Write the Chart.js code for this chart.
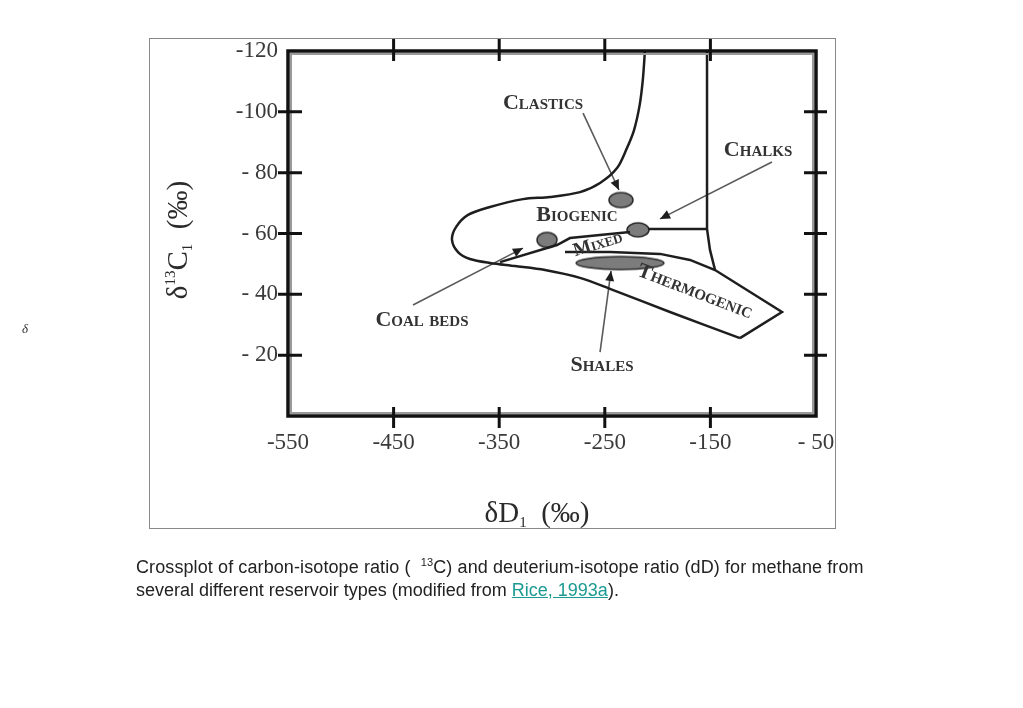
<!DOCTYPE html>
<html>
<head>
<meta charset="utf-8">
<script src="https://cdn.jsdelivr.net/npm/chart.js@4.4.0/dist/chart.umd.min.js"></script>
<style>
  body { margin: 0; background: #fff; width: 1023px; height: 708px; overflow: hidden; position: relative; }
  #plot { position: absolute; left: 0; top: 0; }
  #frame { position: absolute; left: 149px; top: 38px; width: 685px; height: 489px; border: 1px solid #888; pointer-events: none; }
  #caption { position: absolute; left: 136px; top: 556px; font: 18px "Liberation Sans", Arial, sans-serif; line-height: 23px; color: #222; white-space: nowrap; }
  #caption .l1 { letter-spacing: 0.1px; }
  #caption a { color: #1b9a92; text-decoration: underline; }
  #caption sup { font-size: 11px; vertical-align: 7px; line-height: 0; }
  #delta { position: absolute; left: 22px; top: 321px; font: italic 13px "Liberation Serif", serif; color: #333; }
</style>
</head>
<body>
<canvas id="plot" width="1023" height="708"></canvas>
<div id="frame"></div>
<div id="delta">δ</div>
<div id="caption"><span class="l1">Crossplot of carbon-isotope ratio (&nbsp;&nbsp;<sup>13</sup>C) and deuterium-isotope ratio (dD) for methane from</span><br>several different reservoir types (modified from <a>Rice, 1993a</a>).</div>
<script>
// axis ticks
const xTicks = [-550, -450, -350, -250, -150, -50];
const xTickLabels = ['-550', '-450', '-350', '-250', '-150', '- 50'];
const yTicks = [-120, -100, -80, -60, -40, -20];
const yTickLabels = ['-120', '-100', '- 80', '- 60', '- 40', '- 20'];

// field outlines, [dD, d13C]
const biogenicOutline = [[-212, -120], [-214, -110.5], [-217, -102.2], [-222.3, -94], [-229, -88.1], [-238.4, -81.5],
  [-254.5, -76.6], [-273.5, -73.6], [-301.9, -72], [-327.5, -71.3], [-358.7, -68.7], [-379.5, -66.1], [-390.9, -62.1],
  [-394.7, -57.9], [-389, -53.9], [-377.7, -51.6], [-358.7, -50.3], [-335, -49.3], [-306.6, -48], [-273.5, -45.4],
  [-245.1, -41.8], [-188.3, -34.2], [-122, -25.6]];
const thermogenicOutline = [[-287.7, -53.9], [-245.1, -53.9], [-197.7, -53.3], [-169.3, -51.3], [-145.6, -48], [-82.2, -34.2], [-122, -25.6]];
const chalksEdge = [[-153.2, -120], [-153.2, -61.5], [-150.4, -54.6], [-145.6, -48]];
const chalksFloor = [[-209.1, -61.5], [-153.2, -61.5]];
const mixedEdge = [[-349.2, -50.6], [-295.3, -56.2], [-283, -58.5], [-226.1, -60.5]];

// pointers from labels to fields
const clasticsArrow = [[-270.6, -99.6], [-236.6, -74.3]];
const chalksArrow = [[-91.7, -83.5], [-197.7, -64.8]];
const coalArrow = [[-431.6, -36.5], [-327.5, -55.2]];
const shalesArrow = [[-254.5, -21], [-244.1, -47.7]];

// reservoir fields (ellipses)
const fieldCentres = [[-234.7, -71], [-304.7, -57.9], [-218.6, -61.2], [-235.6, -50.3]];
const fieldSizes = [[24, 15], [20, 15], [22, 14], [88, 13]];

// text labels
const labelNames = ['Clastics', 'Chalks', 'Biogenic', 'Mixed', 'Thermogenic', 'Coal beds', 'Shales'];
const labelPos = [[-308.5, -102.9], [-104.9, -87.5], [-276.3, -66.1], [-256.4, -56.5], [-164.6, -40.8], [-423.1, -31.6], [-252.7, -16.8]];
const labelAngle = [0, 0, 0, -17, 21, 0, 0];
const labelSize = [22, 22, 22, 19, 21, 22, 22];

const toXY = pts => pts.map(p => ({ x: p[0], y: p[1] }));

function ellipseImg(w, h) {
  const c = document.createElement('canvas');
  c.width = w + 4; c.height = h + 4;
  const g = c.getContext('2d');
  g.beginPath();
  g.ellipse(c.width / 2, c.height / 2, w / 2, h / 2, 0, 0, Math.PI * 2);
  g.fillStyle = '#7c7c7c'; g.fill();
  g.lineWidth = 1.5; g.strokeStyle = '#2a2a2a'; g.stroke();
  return c;
}
const fieldImgs = fieldSizes.map(s => ellipseImg(s[0], s[1]));

function outline(pts, tension) {
  return { data: toXY(pts), showLine: true, pointRadius: 0, borderColor: '#1e1e1e', borderWidth: 2.5, tension: tension || 0 };
}
function pointer(pts) {
  return { data: toXY(pts), showLine: true, pointRadius: 0, borderColor: '#5a5a5a', borderWidth: 1.6, arrow: true };
}

function richText(ctx, parts, x, y, rotate) {
  ctx.save();
  ctx.translate(x, y);
  if (rotate) ctx.rotate(-Math.PI / 2);
  let total = 0;
  parts.forEach(p => { ctx.font = p.size + 'px "Liberation Serif", serif'; total += ctx.measureText(p.t).width; });
  let cx = -total / 2;
  ctx.fillStyle = '#2a2a2a';
  ctx.textBaseline = 'alphabetic';
  ctx.textAlign = 'left';
  parts.forEach(p => {
    ctx.font = p.size + 'px "Liberation Serif", serif';
    ctx.fillText(p.t, cx, p.shift || 0);
    cx += ctx.measureText(p.t).width;
  });
  ctx.restore();
}

const decor = {
  id: 'decor',
  afterDraw(chart) {
    const ctx = chart.ctx;
    const a = chart.chartArea;
    const xs = chart.scales.x, ys = chart.scales.y;

    // arrow heads at pointer ends
    chart.data.datasets.forEach(ds => {
      if (!ds.arrow) return;
      const n = ds.data.length;
      const p1 = ds.data[n - 2], p2 = ds.data[n - 1];
      const x1 = xs.getPixelForValue(p1.x), y1 = ys.getPixelForValue(p1.y);
      const x2 = xs.getPixelForValue(p2.x), y2 = ys.getPixelForValue(p2.y);
      const ang = Math.atan2(y2 - y1, x2 - x1);
      ctx.save();
      ctx.translate(x2, y2);
      ctx.rotate(ang);
      ctx.beginPath();
      ctx.moveTo(0, 0); ctx.lineTo(-10, -4.5); ctx.lineTo(-10, 4.5); ctx.closePath();
      ctx.fillStyle = '#1e1e1e'; ctx.fill();
      ctx.restore();
    });

    // field labels
    labelNames.forEach((name, i) => {
      const px = xs.getPixelForValue(labelPos[i][0]);
      const py = ys.getPixelForValue(labelPos[i][1]);
      ctx.save();
      ctx.translate(px, py);
      ctx.rotate(labelAngle[i] * Math.PI / 180);
      ctx.font = 'bold ' + labelSize[i] + 'px "Liberation Serif", serif';
      ctx.fontVariantCaps = 'small-caps';
      ctx.fillStyle = '#333';
      ctx.textAlign = 'center';
      ctx.textBaseline = 'middle';
      ctx.fillText(name, 0, 0);
      ctx.fontVariantCaps = 'normal';
      ctx.restore();
    });

    // plot frame
    ctx.save();
    ctx.strokeStyle = '#9a9a9a';
    ctx.lineWidth = 2;
    ctx.strokeRect(a.left + 3, a.top + 3, a.right - a.left - 6, a.bottom - a.top - 6);
    ctx.strokeStyle = '#111';
    ctx.lineWidth = 3.5;
    ctx.strokeRect(a.left, a.top, a.right - a.left, a.bottom - a.top);

    // tick marks crossing the frame
    ctx.lineWidth = 3;
    ctx.beginPath();
    xTicks.slice(1, -1).forEach(v => {
      const px = xs.getPixelForValue(v);
      ctx.moveTo(px, a.bottom - 9); ctx.lineTo(px, a.bottom + 12);
      ctx.moveTo(px, a.top - 13); ctx.lineTo(px, a.top + 10);
    });
    yTicks.slice(1).forEach(v => {
      const py = ys.getPixelForValue(v);
      ctx.moveTo(a.left - 10, py); ctx.lineTo(a.left + 14, py);
      ctx.moveTo(a.right - 12, py); ctx.lineTo(a.right + 11, py);
    });
    ctx.stroke();
    ctx.restore();

    // axis titles
    richText(ctx, [{ t: 'δ', size: 29 }, { t: '13', size: 15, shift: -12 }, { t: 'C', size: 29 }, { t: '1', size: 15, shift: 5 }, { t: '  (‰)', size: 29 }], 187, 240, true);
    richText(ctx, [{ t: 'δD', size: 29 }, { t: '1', size: 15, shift: 5 }, { t: '  (‰)', size: 29 }], 537, 522, false);

    // the figure is cropped at its border
    ctx.clearRect(836, 420, 80, 50);
  }
};

const datasets = [
  outline(biogenicOutline, 0.3),
  outline(thermogenicOutline),
  outline(chalksEdge),
  outline(chalksFloor),
  outline(mixedEdge),
  pointer(clasticsArrow),
  pointer(chalksArrow),
  pointer(coalArrow),
  pointer(shalesArrow),
  {
    data: toXY(fieldCentres),
    showLine: false,
    pointRadius: 10,
    pointStyle: ctx => fieldImgs[ctx.dataIndex]
  }
];

new Chart(document.getElementById('plot'), {
  type: 'scatter',
  data: { datasets: datasets },
  options: {
    responsive: false,
    devicePixelRatio: 1,
    animation: false,
    events: [],
    layout: { padding: { left: 0, top: 51, right: 207, bottom: 252 } },
    plugins: { legend: { display: false }, tooltip: { enabled: false } },
    scales: {
      x: {
        type: 'linear', min: -550, max: -50,
        grid: { display: false, drawTicks: false },
        border: { display: false },
        afterBuildTicks: s => { s.ticks = xTicks.map(v => ({ value: v })); },
        afterFit: s => { s.height = 40; },
        ticks: {
          padding: 13, maxRotation: 0, autoSkip: false,
          color: '#3a3a3a', font: { family: '"Liberation Serif", serif', size: 23 },
          callback: v => xTickLabels[xTicks.indexOf(v)]
        }
      },
      y: {
        type: 'linear', min: -120, max: 0, reverse: true,
        grid: { display: false, drawTicks: false },
        border: { display: false },
        afterBuildTicks: s => { s.ticks = yTicks.map(v => ({ value: v })); },
        afterFit: s => { s.width = 288; },
        ticks: {
          padding: 10, autoSkip: false,
          color: '#3a3a3a', font: { family: '"Liberation Serif", serif', size: 23 },
          callback: v => yTickLabels[yTicks.indexOf(v)]
        }
      }
    }
  },
  plugins: [decor]
});
</script>
</body>
</html>
